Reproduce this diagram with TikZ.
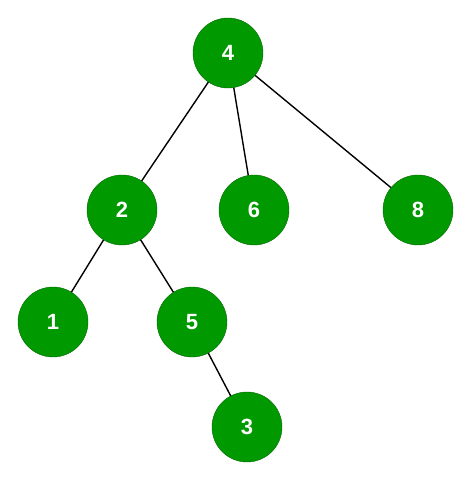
\documentclass[tikz,border=0pt]{standalone}
\usepackage{fontspec}
\setmainfont{Liberation Sans}
\usepackage{tikz}
\usetikzlibrary{positioning}
\definecolor{nodegreen}{HTML}{009900}
\tikzset{treenode/.style={circle, draw=black!60!green, fill=nodegreen, text=white,
    minimum size=70pt, inner sep=0pt, font=\fontsize{22}{22}\selectfont\bfseries}}
\tikzset{treeedge/.style={line width=1.4pt, black}}

\begin{document}
\begin{tikzpicture}[x=1pt, y=-1pt]
          \useasboundingbox (0,0) rectangle (474,481);
          % nodes
          \node[treenode] (n4) at (228,53) {4};
          \node[treenode] (n2) at (122,210) {2};
          \node[treenode] (n6) at (254,210) {6};
          \node[treenode] (n8) at (418,210) {8};
          \node[treenode] (n1) at (53,322) {1};
          \node[treenode] (n5) at (192,322) {5};
          \node[treenode] (n3) at (247,427) {3};
          % edges
          \draw[treeedge] (n4) -- (n2);
          \draw[treeedge] (n4) -- (n6);
          \draw[treeedge] (n4) -- (n8);
          \draw[treeedge] (n2) -- (n1);
          \draw[treeedge] (n2) -- (n5);
          \draw[treeedge] (n5) -- (n3);
        \end{tikzpicture}
\end{document}
